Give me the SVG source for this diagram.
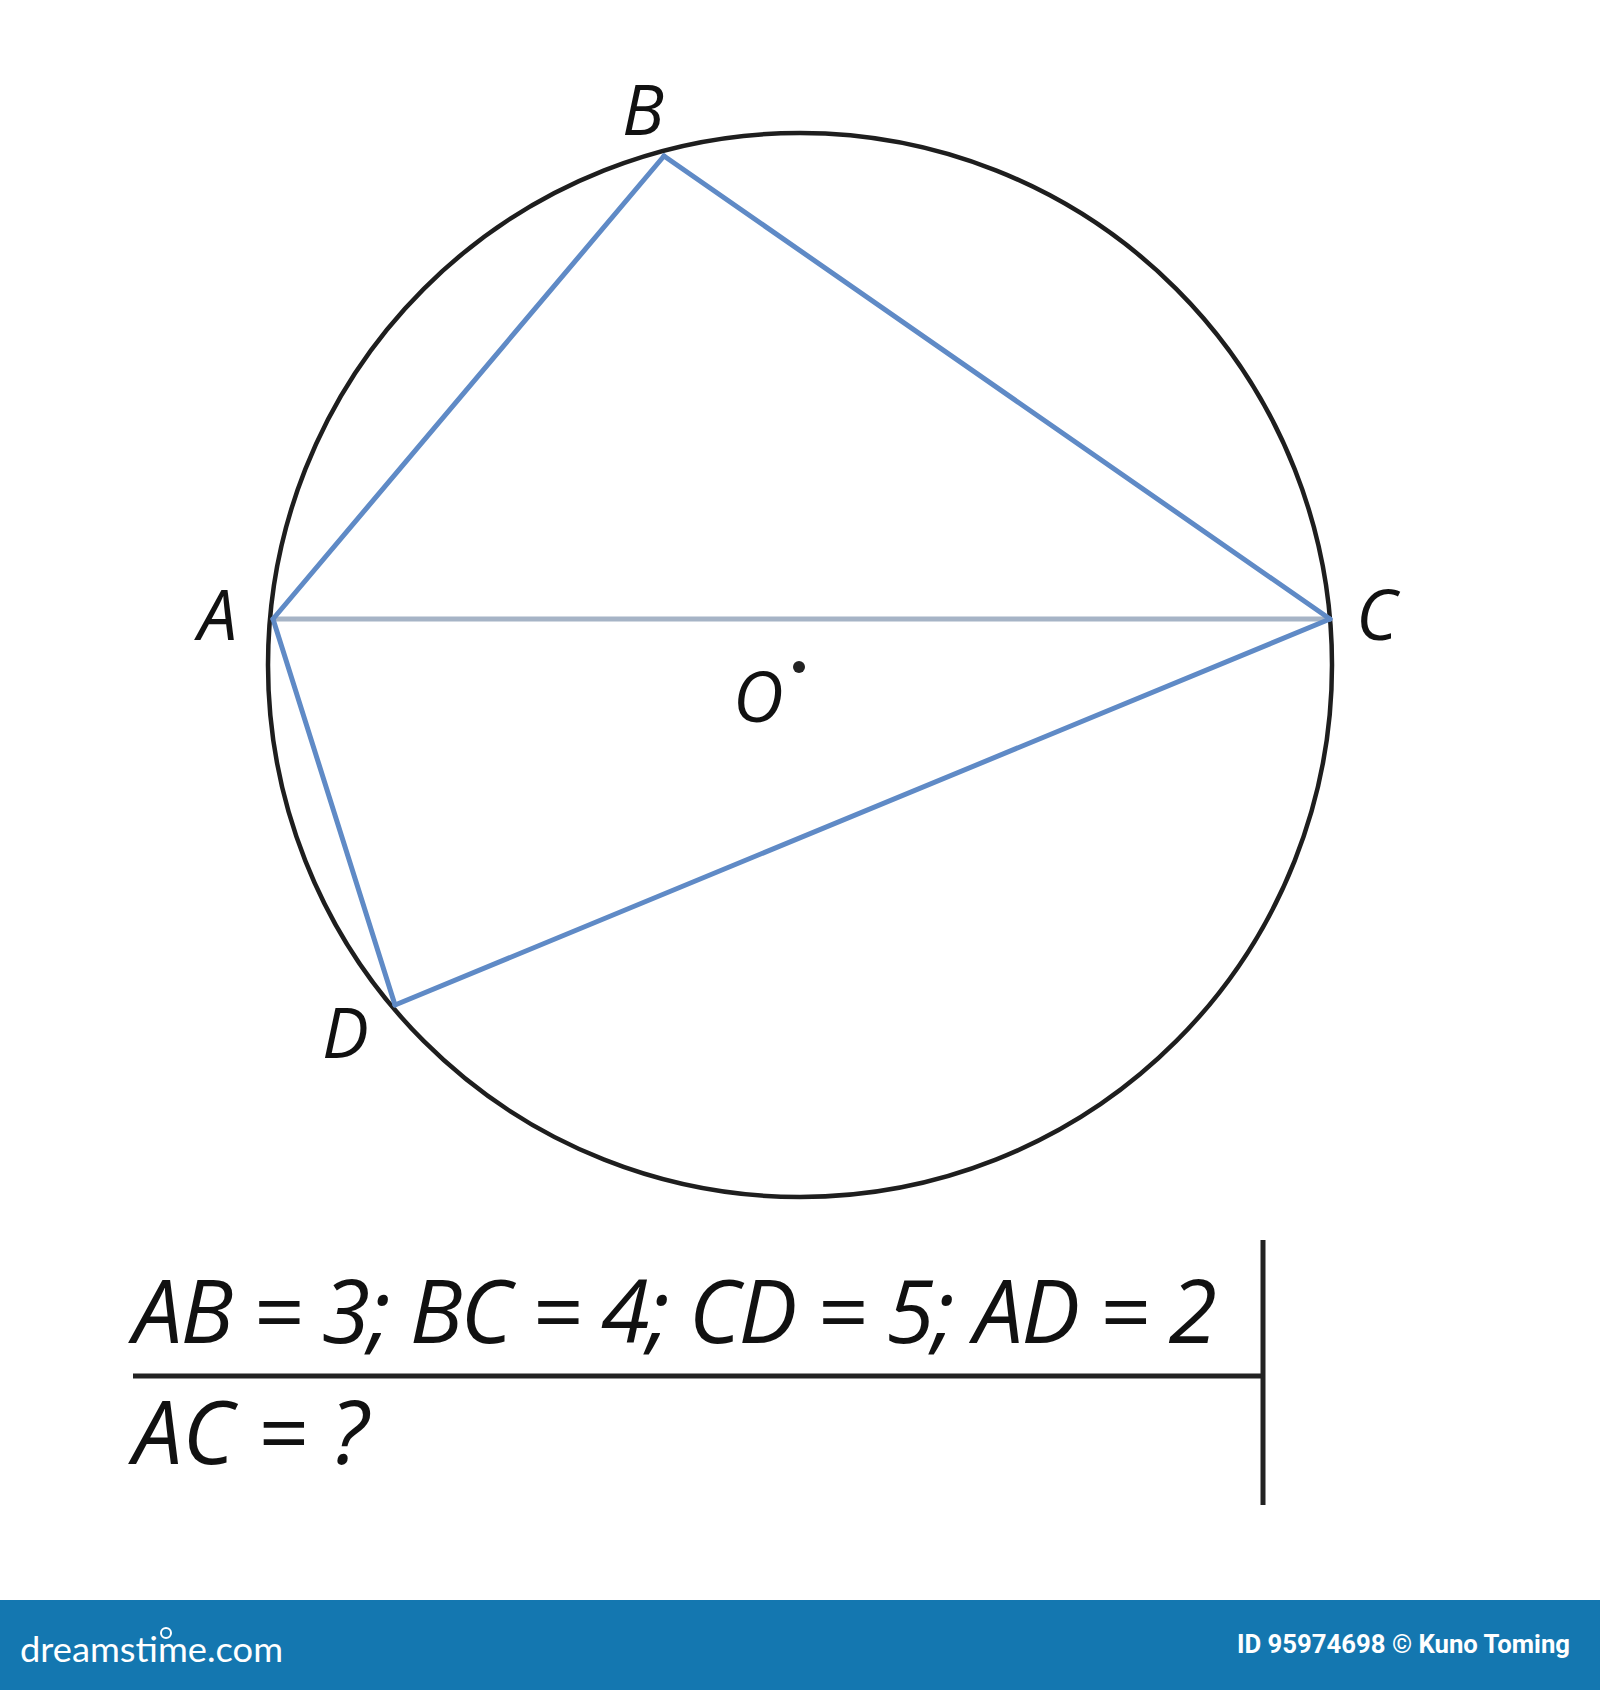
<svg xmlns="http://www.w3.org/2000/svg" width="1600" height="1690" viewBox="0 0 1600 1690">
<style>
.lbl{font-family:"Open Sans","Liberation Sans",sans-serif;font-style:italic;font-size:70px;fill:#111}
.eq{font-family:"Open Sans","Liberation Sans",sans-serif;font-style:italic;font-size:88px;fill:#111}
.edge{stroke:#5f8ac6;stroke-width:5;fill:none;stroke-linecap:round}
.diag{stroke:#a6b4c6;stroke-width:5;fill:none}
.rule{stroke:#222;stroke-width:5;fill:none}
</style>
<rect width="1600" height="1690" fill="#ffffff"/>
<g id="circle">
<circle cx="800" cy="665" r="532" fill="none" stroke="#1e1e1e" stroke-width="4.5"/>
</g>
<g id="connectors">
<line class="diag" x1="273" y1="619" x2="1330" y2="619"/>
<line class="edge" x1="273" y1="619" x2="664" y2="156"/>
<line class="edge" x1="664" y1="156" x2="1330" y2="619"/>
<line class="edge" x1="1330" y1="619" x2="395" y2="1005"/>
<line class="edge" x1="395" y1="1005" x2="273" y2="619"/>
</g>
<g id="node-A"><text class="lbl" x="198" y="640">A</text></g>
<g id="node-B"><text class="lbl" x="622" y="135">B</text></g>
<g id="node-C"><text class="lbl" x="1356" y="640">C</text></g>
<g id="node-D"><text class="lbl" x="322" y="1058">D</text></g>
<g id="node-O">
<circle cx="799" cy="667" r="6" fill="#222"/>
<text class="lbl" x="733" y="722">O</text>
</g>
<g id="problem">
<text class="eq" x="133" y="1343" textLength="1084" lengthAdjust="spacing">AB = 3; BC = 4; CD = 5; AD = 2</text>
<line class="rule" x1="133" y1="1376" x2="1263" y2="1376"/>
<line class="rule" x1="1263" y1="1240" x2="1263" y2="1505"/>
<text class="eq" x="133" y="1464" textLength="235" lengthAdjust="spacing">AC = ?</text>
</g>
<g id="footer">
<rect x="0" y="1600" width="1600" height="90" fill="#1477b0"/>
<text x="20" y="1662" font-family="Lato,'Liberation Sans',sans-serif" font-size="34" fill="#fff" textLength="263" lengthAdjust="spacingAndGlyphs">dreamstime.com</text>
<circle cx="166" cy="1633" r="5" fill="none" stroke="#fff" stroke-width="2"/>
<text x="1237" y="1653" font-family="Roboto,'Liberation Sans',sans-serif" font-weight="bold" font-size="25" fill="#fff" textLength="333" lengthAdjust="spacingAndGlyphs">ID 95974698 © Kuno Toming</text>
</g>
</svg>
